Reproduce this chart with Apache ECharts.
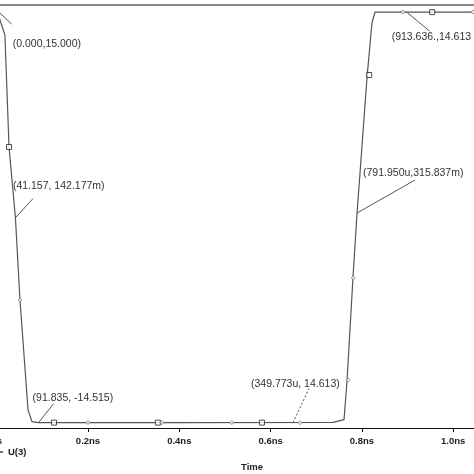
<!DOCTYPE html>
<html>
<head>
<meta charset="utf-8">
<script src="https://cdn.jsdelivr.net/npm/echarts@6/dist/echarts.min.js"></script>
<style>
html,body{margin:0;padding:0;background:#fff;}
#c{width:474px;height:474px;}
</style>
</head>
<body>
<div id="c"></div>
<script>
// ---- data (time in ns, voltage in V) ----
var traceName = 'U(3)';
var traceTime = [0, 0.018, 0.027, 0.041, 0.051, 0.0686, 0.0773, 0.0918, 0.40, 0.7367, 0.7608, 0.7674, 0.7805, 0.7893, 0.7958, 0.8112, 0.822, 0.8287, 0.898, 1.046];
var traceVolt = [15, 13.2, 5.2, 0.142, -5.74, -13.6, -14.45, -14.515, -14.515, -14.5, -14.3, -11.5, -4.1, 0.48, 3.34, 10.2, 14.07, 14.86, 14.85, 14.85];
var squareTime = [0.027, 0.1255, 0.353, 0.581, 0.816, 0.954];
var squareVolt = [5.2, -14.515, -14.515, -14.515, 10.35, 14.85];
var diamondTime = [0.051, 0.200, 0.362, 0.515, 0.664, 0.770, 0.781, 0.890, 1.043];
var diamondVolt = [-5.74, -14.515, -14.515, -14.515, -14.515, -11.46, -4.16, 14.85, 14.85];
var xTicks = [0, 0.2, 0.4, 0.6, 0.8, 1.0];
var annTime = [0, 0.041, 0.0918, 0.649, 0.7893, 0.898];
var annVolt = [15, 0.142, -14.515, -14.515, 0.48, 14.85];
var annText = ['(0.000,15.000)', '(41.157, 142.177m)', '(91.835, -14.515)', '(349.773u, 14.613)', '(791.950u,315.837m)', '(913.636.,14.613'];

function zip(a, b) { return a.map(function (v, i) { return [v, b[i]]; }); }

// pixel offsets for annotation leaders / texts (style only)
var leadOff = [[15, 14], [17.5, -19], [15, -19], [16, -34], [58, -33], [23, 19]];
var textOff = [[16, 34], [-2.5, -32], [-6, -24.5], [-42, -39], [6, -40], [-15, 25]];
var leadDash = [null, null, null, [2, 2], null, null];

var chart = echarts.init(document.getElementById('c'), null, {renderer: 'canvas'});
var labFont = '"Liberation Sans",Arial,sans-serif';

chart.setOption({
  animation: false,
  backgroundColor: '#fff',
  grid: {left: -3.3, right: 0, top: 5, bottom: 46, outerBoundsMode: 'none', containLabel: false},
  legend: {
    data: [traceName], left: -8, top: 442, icon: 'rect', itemWidth: 6, itemHeight: 1.5, itemGap: 4,
    textStyle: {fontFamily: labFont, fontSize: 9.5, fontWeight: 'bold', color: '#222'}
  },
  xAxis: {
    type: 'value', min: 0, max: 1.0455, interval: 0.2,
    axisLine: {show: true, onZero: false, lineStyle: {color: '#111', width: 1}},
    axisTick: {show: true, length: 4, lineStyle: {color: '#111'}},
    splitLine: {show: false},
    axisLabel: {
      showMaxLabel: false, margin: 8, color: '#222', fontFamily: labFont, fontSize: 9.5, fontWeight: 'bold',
      formatter: function (v) { return v === 0 ? '0s' : v.toFixed(1) + 'ns'; }
    }
  },
  yAxis: {type: 'value', min: -14.9, max: 15.36, show: false, splitLine: {show: false}},
  series: [
    {name: traceName, type: 'line', data: zip(traceTime, traceVolt), showSymbol: false, symbol: 'none',
     lineStyle: {color: '#555', width: 1.2}, itemStyle: {color: '#444'}, z: 3},
    {type: 'scatter', data: zip(squareTime, squareVolt), symbol: 'rect', symbolSize: 5, silent: true,
     itemStyle: {color: '#fff', borderColor: '#222', borderWidth: 1}, z: 4},
    {type: 'scatter', data: zip(diamondTime, diamondVolt), symbol: 'diamond', symbolSize: 4, silent: true,
     itemStyle: {color: '#fff', borderColor: '#777', borderWidth: 1}, z: 4}
  ]
});

var g = [
  {type: 'line', shape: {x1: 0, y1: 5, x2: 474, y2: 5}, style: {stroke: '#8a8a8a', lineWidth: 2}},
  {type: 'text', x: 241, y: 462, style: {text: 'Time', fill: '#222', font: 'bold 9.5px ' + labFont}}
];
annTime.forEach(function (t, i) {
  var p = chart.convertToPixel({gridIndex: 0}, [t, annVolt[i]]);
  g.push({type: 'line', shape: {x1: p[0], y1: p[1], x2: p[0] + leadOff[i][0], y2: p[1] + leadOff[i][1]},
          style: {stroke: '#555', lineWidth: 1, lineDash: leadDash[i]}});
  g.push({type: 'text', x: p[0] + textOff[i][0], y: p[1] + textOff[i][1],
          style: {text: annText[i], fill: '#333', font: '10.5px ' + labFont, verticalAlign: 'middle'}});
});
chart.setOption({graphic: g});
</script>
</body>
</html>
